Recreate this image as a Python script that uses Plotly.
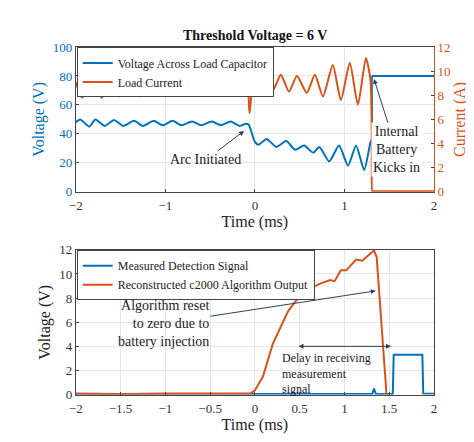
import plotly.graph_objects as go
from plotly.subplots import make_subplots

BLUE = "#0072BD"
ORANGE = "#D95319"
FONT = "Liberation Serif"

# Top panel: capacitor voltage (V)
t_v = [-2.0, -1.95, -1.85, -1.78, -1.68, -1.57, -1.47, -1.35, -1.25, -1.13, -1.03, -0.92, -0.82,
       -0.70, -0.60, -0.48, -0.38, -0.27, -0.17, -0.10, -0.07, 0.0, 0.04, 0.13, 0.24, 0.35, 0.45,
       0.55, 0.65, 0.72, 0.83, 0.94, 1.04, 1.13, 1.22, 1.29, 1.305, 1.31, 1.315, 1.33, 1.6, 2.0]
v_cap = [48, 50, 45, 50, 45.5, 49.5, 45.5, 49, 45.5, 49, 46, 49, 46, 48.5, 46, 48.5, 46, 48.5,
         45.5, 47, 46.5, 34.5, 32.5, 36.5, 31, 35, 29, 32, 27, 31, 21, 32, 18, 32, 15, 34, 36, 80,
         80, 80, 80, 80]

# Top panel: load current (A)
t_i = [-2.0, -1.93, -1.82, -1.71, -1.60, -1.51, -1.40, -1.29, -1.18, -1.07, -0.98, -0.85, -0.76,
       -0.65, -0.55, -0.44, -0.33, -0.22, -0.09, -0.06, -0.02, 0.09, 0.20, 0.29, 0.38, 0.47, 0.58,
       0.67, 0.76, 0.87, 0.96, 1.06, 1.15, 1.24, 1.29, 1.305, 1.31, 1.315, 1.33, 1.6, 2.0]
i_load = [9.1, 7.8, 9.2, 7.8, 9.2, 7.9, 9.1, 7.9, 9.1, 8.0, 9.1, 8.0, 9.0, 8.0, 9.0, 8.1, 9.0,
          8.1, 9.1, 6.5, 8.9, 9.9, 8.4, 9.7, 8.3, 9.6, 8.2, 9.7, 7.9, 10.5, 7.6, 10.7, 7.2, 11.1,
          9.3, 5.0, 0.05, 0.05, 0.05, 0.05, 0.05]

# Bottom panel: measured detection signal (V)
t_det = [-2.0, -1.6, -1.2, -0.8, -0.4, 0.0, 0.4, 0.8, 1.2, 1.31, 1.33, 1.35, 1.54, 1.55, 1.7,
         1.87, 1.88, 2.0]
v_det = [0.05, 0.06, 0.05, 0.06, 0.05, 0.06, 0.05, 0.06, 0.05, 0.05, 0.5, 0.05, 0.05, 3.3, 3.3,
         3.3, 0.08, 0.08]

# Bottom panel: reconstructed algorithm output (V)
t_alg = [-2.0, -1.5, -1.0, -0.5, -0.05, 0.0, 0.09, 0.20, 0.27, 0.37, 0.44, 0.53, 0.62, 0.73,
         0.84, 0.89, 0.96, 1.02, 1.13, 1.20, 1.29, 1.33, 1.36, 1.47]
v_alg = [0.1, 0.05, 0.1, 0.1, 0.1, 0.35, 1.5, 4.2, 5.3, 6.9, 7.6, 8.4, 8.8, 9.2, 9.5, 9.4,
         10.3, 10.3, 11.2, 11.1, 11.7, 11.95, 11.4, 0.0]

fig = make_subplots(rows=2, cols=1, specs=[[{"secondary_y": True}], [{}]])
fig.add_trace(go.Scatter(x=t_v, y=v_cap, mode="lines", name="Voltage Across Load Capacitor",
                         line=dict(color=BLUE, width=2, smoothing=0.6), line_shape="spline",
                         legend="legend"), row=1, col=1)
fig.add_trace(go.Scatter(x=t_i, y=i_load, mode="lines", name="Load Current", line_shape="spline",
                         line=dict(color=ORANGE, width=2, smoothing=0.6), legend="legend"),
              row=1, col=1, secondary_y=True)
fig.add_trace(go.Scatter(x=t_det, y=v_det, mode="lines", name="Measured Detection Signal",
                         line=dict(color=BLUE, width=2), legend="legend2"), row=2, col=1)
fig.add_trace(go.Scatter(x=t_alg, y=v_alg, mode="lines", name="Reconstructed c2000 Algorithm Output",
                         line=dict(color=ORANGE, width=2), legend="legend2"), row=2, col=1)

ax = dict(showline=True, linecolor="#444", mirror=True, ticks="inside", ticklen=3,
          gridcolor="#e6e6e6", zeroline=False, tickfont=dict(size=13, color="#333"))
fig.update_layout(
    width=474, height=442, margin=dict(l=0, r=0, t=0, b=0),
    plot_bgcolor="white", paper_bgcolor="white",
    font=dict(family=FONT, size=13, color="#222"),
    xaxis=dict(domain=[0.131, 0.903], range=[-2, 2], dtick=1, title=dict(text="Time (ms)", standoff=0), **ax),
    yaxis=dict(range=[0, 100], dtick=20, title=dict(text="Voltage (V)", font=dict(color=BLUE), standoff=4),
               domain=[0.586, 0.925], **{**ax, "tickfont": dict(size=13, color=BLUE), "mirror": False}),
    yaxis2=dict(range=[0, 12], dtick=2, showline=True, linecolor=ORANGE, ticks="inside", ticklen=3,
                showgrid=False, zeroline=False, tickfont=dict(size=13, color=ORANGE),
                title=dict(text="Current (A)", font=dict(color=ORANGE), standoff=4)),
    xaxis2=dict(domain=[0.131, 0.903], range=[-2, 2], dtick=0.5, title=dict(text="Time (ms)", standoff=0), **ax),
    yaxis3=dict(range=[0, 12], dtick=2, domain=[0.111, 0.450], title=dict(text="Voltage (V)", standoff=4), **ax),
    legend=dict(x=0.133, y=0.924, xanchor="left", yanchor="top", bgcolor="white", bordercolor="#444",
                borderwidth=1, font=dict(size=12), tracegroupgap=0, itemwidth=30),
    legend2=dict(x=0.133, y=0.449, xanchor="left", yanchor="top", bgcolor="white", bordercolor="#444",
                 borderwidth=1, font=dict(size=12), tracegroupgap=0, itemwidth=30),
    showlegend=True,
)
fig.update_xaxes(ticklabelstandoff=2)

anns = [
    dict(text="<b>Threshold Voltage = 6 V</b>", xref="paper", yref="paper", x=0.517, y=0.93,
         showarrow=False, font=dict(size=14, color="#111"), yanchor="bottom"),
    dict(text="Arc Initiated", xref="x", yref="y", x=-0.12, y=42, ax=-0.55, ay=22, axref="x", ayref="y",
         showarrow=True, arrowhead=2, arrowsize=1, arrowwidth=1, font=dict(size=14)),
    dict(text="Internal<br>Battery<br>Kicks in", xref="x", yref="y", x=1.33, y=78, ax=1.58, ay=29,
         axref="x", ayref="y", showarrow=True, arrowhead=2, arrowwidth=1, font=dict(size=14),
         bgcolor="white"),
    dict(text="Algorithm reset<br>to zero due to<br>battery injection", xref="x2", yref="y3", x=1.35, y=8.6,
         ax=-1.02, ay=5.9, axref="x2", ayref="y3", showarrow=True, arrowhead=2, arrowwidth=1,
         align="right", font=dict(size=14)),
    dict(text="", xref="x2", yref="y3", x=1.52, y=4.0, ax=0.47, ay=4.0, axref="x2", ayref="y3",
         showarrow=True, arrowhead=2, arrowside="end+start", arrowwidth=1),
    dict(text="Delay in receiving<br>measurement<br>signal", xref="x2", yref="y3", x=0.28, y=3.8,
         yanchor="top", showarrow=False, align="left", xanchor="left", font=dict(size=12)),
]
fig.update_layout(annotations=anns)
fig.write_html("out.html")
